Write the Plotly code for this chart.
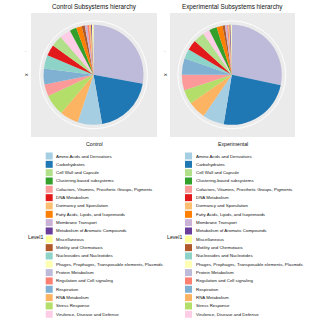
import plotly.graph_objects as go

# ---------------- data ----------------
categories = [
    "Amino Acids and Derivatives", "Carbohydrates", "Cell Wall and Capsule",
    "Clustering-based subsystems", "Cofactors, Vitamins, Prosthetic Groups, Pigments",
    "DNA Metabolism", "Dormancy and Sporulation", "Fatty Acids, Lipids, and Isoprenoids",
    "Membrane Transport", "Metabolism of Aromatic Compounds", "Miscellaneous",
    "Motility and Chemotaxis", "Nucleosides and Nucleotides",
    "Phages, Prophages, Transposable elements, Plasmids", "Protein Metabolism",
    "Regulation and Cell signaling", "Respiration", "RNA Metabolism",
    "Stress Response", "Virulence, Disease and Defense",
]
colors = [
    "#a6cee3", "#1f78b4", "#b2df8a", "#33a02c", "#fb9a99", "#e31a1c", "#fdbf6f",
    "#ff7f00", "#cab2d6", "#6a3d9a", "#ffff99", "#b15928", "#8dd3c7", "#ffffb3",
    "#bebada", "#fb8072", "#80b1d3", "#fdb462", "#b3de69", "#fccde5",
]
# percentages (same order as categories)
control_values = [7.9, 19.4, 3.6, 2.2, 3.8, 3.6, 0.6, 1.8, 0.8, 0.3, 0.3,
                  1.0, 4.4, 0.2, 27.8, 0.6, 5.1, 6.0, 6.9, 3.6]
experimental_values = [6.9, 24.2, 3.6, 2.5, 5.0, 3.3, 0.4, 1.9, 0.7, 0.3, 0.2,
                       0.8, 3.1, 0.2, 28.3, 0.4, 5.3, 5.8, 4.7, 2.2]
# clockwise drawing order of slices from 12 o'clock
slice_order = [
    "Protein Metabolism", "Carbohydrates", "Amino Acids and Derivatives",
    "RNA Metabolism", "Stress Response",
    "Cofactors, Vitamins, Prosthetic Groups, Pigments", "Respiration",
    "Nucleosides and Nucleotides", "DNA Metabolism", "Cell Wall and Capsule",
    "Virulence, Disease and Defense", "Clustering-based subsystems",
    "Fatty Acids, Lipids, and Isoprenoids", "Motility and Chemotaxis",
    "Membrane Transport", "Regulation and Cell signaling",
    "Dormancy and Sporulation", "Metabolism of Aromatic Compounds",
    "Miscellaneous", "Phages, Prophages, Transposable elements, Plasmids",
]
panel_titles = ["Control Subsystems hierarchy", "Experimental Subsystems hierarchy"]
group_labels = ["Control", "Experimental"]
legend_title = "Level1"

# ---------------- layout constants (pixels) ----------------
W = H = 320
FONT = "Liberation Sans, Arial, sans-serif"
panels = [
    dict(x0=31, x1=157, y0=13, y1=137, cx=93.5, cy=74.8, key_x=49.2, lt_x=35.5, ax_x=26),
    dict(x0=170, x1=295, y0=13, y1=137, cx=231.8, cy=74.8, key_x=188.5, lt_x=174.5, ax_x=165),
]
R = 50
key_y0 = 156.0
key_step = 8.33

fig = go.Figure()
shapes = []
annotations = []

color_of = dict(zip(categories, colors))
for p, vals, title, glabel in zip(panels, [control_values, experimental_values],
                                  panel_titles, group_labels):
    val_of = dict(zip(categories, vals))
    fig.add_trace(go.Pie(
        labels=slice_order,
        values=[val_of[c] for c in slice_order],
        marker=dict(colors=[color_of[c] for c in slice_order], line=dict(width=0)),
        sort=False, direction="clockwise", rotation=0,
        textinfo="none", hoverinfo="label+value", showlegend=False,
        domain=dict(x=[(p["cx"] - R) / W, (p["cx"] + R) / W],
                    y=[1 - (p["cy"] + R) / H, 1 - (p["cy"] - R) / H]),
    ))
    # panel background
    shapes.append(dict(type="rect", xref="x", yref="y", x0=p["x0"], x1=p["x1"],
                       y0=p["y0"], y1=p["y1"], fillcolor="#ebebeb",
                       line=dict(width=0), layer="below"))
    shapes.append(dict(type="circle", xref="x", yref="y",
                       x0=p["cx"] - 54, x1=p["cx"] + 54, y0=p["cy"] - 54, y1=p["cy"] + 54,
                       line=dict(color="rgba(255,255,255,0.9)", width=1), layer="below"))
    # title
    annotations.append(dict(x=(p["x0"] + p["x1"]) / 2, y=7.3, xref="x", yref="y",
                            text=title, showarrow=False, xanchor="center", yanchor="middle",
                            font=dict(family=FONT, size=6.3, color="#111")))
    # axis label "x" and tick
    annotations.append(dict(x=p["ax_x"], y=75, xref="x", yref="y", text="x",
                            showarrow=False, textangle=-90, xanchor="center", yanchor="middle",
                            font=dict(family=FONT, size=5, color="#111")))
    annotations.append(dict(x=p["x0"] - 2, y=50, xref="x", yref="y", text="-",
                            showarrow=False, xanchor="right", yanchor="middle",
                            font=dict(family=FONT, size=4, color="#777")))
    # x-axis title below panel
    annotations.append(dict(x=(p["x0"] + p["x1"]) / 2, y=144, xref="x", yref="y",
                            text=glabel, showarrow=False, xanchor="center", yanchor="middle",
                            font=dict(family=FONT, size=5.2, color="#111")))
    # legend title
    annotations.append(dict(x=p["lt_x"], y=236.5, xref="x", yref="y", text=legend_title,
                            showarrow=False, xanchor="center", yanchor="middle",
                            font=dict(family=FONT, size=5.2, color="#111")))
    # legend keys (scatter squares) + labels
    ys = [key_y0 + i * key_step for i in range(len(categories))]
    fig.add_trace(go.Scatter(
        x=[p["key_x"]] * len(categories), y=ys, mode="markers",
        marker=dict(symbol="square", size=7, color=colors, line=dict(width=0)),
        showlegend=False, hoverinfo="skip", xaxis="x", yaxis="y",
    ))
    for c, yy in zip(categories, ys):
        annotations.append(dict(x=p["key_x"] + 5, y=yy, xref="x", yref="y", text=c,
                                showarrow=False, xanchor="left", yanchor="middle",
                                font=dict(family=FONT, size=4.4, color="#111")))

fig.update_layout(
    width=W, height=H, margin=dict(l=0, r=0, t=0, b=0),
    paper_bgcolor="white", plot_bgcolor="rgba(0,0,0,0)",
    xaxis=dict(range=[0, W], domain=[0, 1], visible=False, fixedrange=True),
    yaxis=dict(range=[H, 0], domain=[0, 1], visible=False, fixedrange=True),
    shapes=shapes, annotations=annotations, showlegend=False,
)
fig.write_html("out.html")
